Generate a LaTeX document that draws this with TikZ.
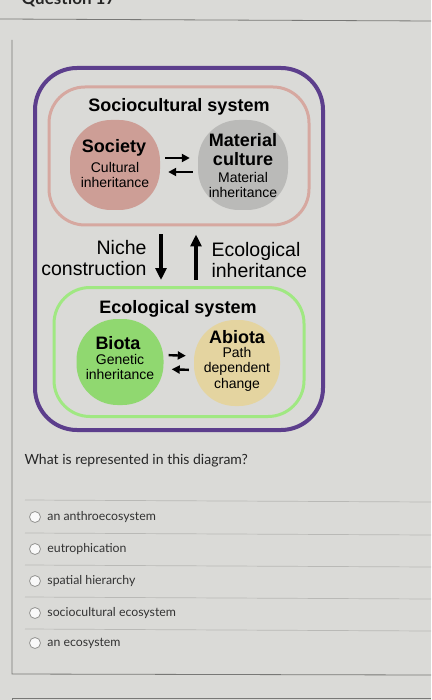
\documentclass[tikz,border=0pt]{standalone}
\usepackage{fontspec}
\setmainfont{Liberation Sans}
\newfontfamily\latofont{Lato}
\usetikzlibrary{positioning,arrows.meta,shapes}

\definecolor{pagebg}{RGB}{218,218,215}
\definecolor{framegray}{RGB}{120,120,118}
\definecolor{rulegray}{RGB}{185,185,182}
\definecolor{outerpurple}{RGB}{92,62,140}
\definecolor{socpink}{RGB}{214,168,160}
\definecolor{socfill}{RGB}{205,158,150}
\definecolor{matgray}{RGB}{186,186,184}
\definecolor{ecogreen}{RGB}{160,232,130}
\definecolor{biofill}{RGB}{144,216,112}
\definecolor{abiofill}{RGB}{228,212,160}

\begin{document}
\begin{tikzpicture}[x=1pt,y=-1pt]
	\tikzset{
		sysbox/.style={draw,rectangle,line width=3pt},
		blob/.style={rectangle,rounded corners=41pt,minimum width=90pt,minimum height=90pt,inner sep=0pt,align=center},
		head/.style={font=\bfseries\fontsize{18}{19}\selectfont},
		sub/.style={font=\fontsize{14}{15.5}\selectfont,align=center},
		flow/.style={font=\fontsize{19.5}{21.5}\selectfont},
		swap/.style={-{Triangle[length=8pt,width=8pt]},line width=2.4pt,shorten <=5pt,shorten >=8pt},
		feed/.style={-{Triangle[length=12pt,width=11pt]},line width=3.8pt},
		option/.style={font=\latofont\fontsize{12.3}{14}\selectfont,anchor=west,text=black!80},
		radio/.style={circle,draw=rulegray!80!black,fill=white!85!pagebg,line width=0.8pt,minimum size=11pt,inner sep=0pt}
	}
	\useasboundingbox[fill=pagebg] (0,0) rectangle (431,700);
	% page header and card
	\node[font=\latofont\bfseries\fontsize{17}{17}\selectfont,anchor=base west,text=black!85] (qtitle) at (18,5) {Question 17};
	\draw[framegray,line width=0.8pt] (0,19) -- (431,21);
	\draw[framegray,line width=0.8pt] (12,40) -- (12,674) -- (431,675);
	\draw[framegray,line width=0.8pt] (12,700) -- (12,698) -- (431,698);
	% systems
	\node[sysbox,draw=outerpurple,line width=4pt,rounded corners=42pt,minimum width=288pt,minimum height=362pt] (humsys) at (179,249) {};
	\node[sysbox,draw=socpink,rounded corners=36pt,minimum width=260pt,minimum height=138pt] (socsys) at (179,156) {};
	\node[sysbox,draw=ecogreen,rounded corners=36pt,minimum width=250pt,minimum height=129pt] (ecosys) at (179,352) {};
	\node[head] (soctitle) at (179,107) {Sociocultural system};
	\node[head] (ecotitle) at (178,309) {Ecological system};
	% sociocultural parts
	\node[blob,fill=socfill] (soc) at (115,165) {};
	\node[blob,fill=matgray] (mat) at (243,165) {};
	\node[head,align=center] (soclbl) at (114,148) {Society};
	\node[sub] (socsub) at (115,175) {Cultural\\inheritance};
	\node[head,align=center] (matlbl) at (243,150) {Material\\culture};
	\node[sub] (matsub) at (243,185) {Material\\inheritance};
	% ecological parts
	\node[blob,fill=biofill,minimum width=87pt,minimum height=86pt] (bio) at (120,362) {};
	\node[blob,fill=abiofill,minimum width=86pt,minimum height=86pt] (abio) at (237,363) {};
	\node[head] (biolbl) at (118,343) {Biota};
	\node[sub] (biosub) at (120,367) {Genetic\\inheritance};
	\node[head] (abiolbl) at (237,337) {Abiota};
	\node[sub] (abiosub) at (237,369) {Path\\dependent\\change};
	\path
		([yshift=7pt]soc.east) edge[swap] ([yshift=7pt]mat.west)
		([yshift=-7pt]mat.west) edge[swap] ([yshift=-7pt]soc.east)
		([yshift=7pt]bio.east) edge[swap] ([yshift=7pt]abio.west)
		([yshift=-7pt]abio.west) edge[swap] ([yshift=-7pt]bio.east);
	% between the systems
	\draw[feed] ([xshift=-18pt,yshift=-8pt]socsys.south) -- ([xshift=-18pt,yshift=6pt]ecosys.north);
	\draw[feed] ([xshift=17pt,yshift=6pt]ecosys.north) -- ([xshift=17pt,yshift=-8pt]socsys.south);
	\node[flow,align=right,anchor=east] (nichelbl) at (150,258) {Niche\\construction};
	\node[flow,align=left,anchor=west] (ecolbl) at (208,260) {Ecological\\inheritance};
	% question
	\node[font=\latofont\fontsize{14}{16}\selectfont,anchor=west,text=black!85] (quest) at (21,461) {What is represented in this diagram?};
	\foreach \y/\txt [count=\i] in {517/an anthroecosystem,549/eutrophication,581/spatial hierarchy,613/sociocultural ecosystem,643/an ecosystem}{
		\node[radio] (r\i) at (35,\y) {};
		\node[option] (o\i) at ([xshift=3pt]r\i.east) {\txt};
	}
	\foreach \y in {500,533,565,597,629}{
		\draw[rulegray,line width=0.7pt] (25,\y) -- (431,\y+2);
	}
\end{tikzpicture}
\end{document}
